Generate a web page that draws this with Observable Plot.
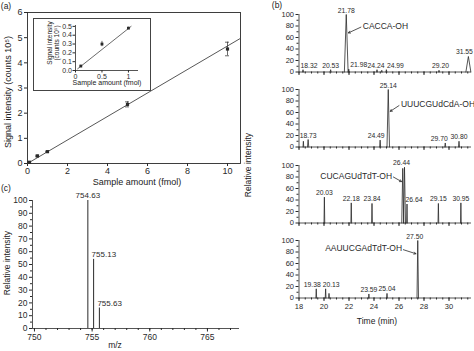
<!DOCTYPE html>
<html><head><meta charset="utf-8">
<script src="https://cdn.jsdelivr.net/npm/d3@7"></script>
<script src="https://cdn.jsdelivr.net/npm/@observablehq/plot@0.6"></script>
<style>
body{margin:0;background:#fff;}
#root{position:relative;width:474px;height:351px;overflow:hidden;font-family:"Liberation Sans",Arial,sans-serif;color:#222;background:#fff;}
#root svg{overflow:visible;}
.t{position:absolute;white-space:nowrap;line-height:1;}
</style></head><body><div id="root"></div>
<script>
// ---------- DATA ----------
// (a) calibration
const aAmounts = [0.1, 0.5, 1, 5, 10];
const aSignals = [0.05, 0.3, 0.47, 2.35, 4.55];
const aErrors = [0.02, 0.03, 0.02, 0.1, 0.27];
const aFitSlope = 0.467;
const aXTicks = [0, 2, 4, 6, 8, 10];
const aYTicks = [0, 1, 2, 3, 4, 5, 6];
// (a) inset
const insetAmounts = [0.1, 0.5, 1];
const insetSignals = [0.05, 0.3, 0.48];
const insetErrors = [0.01, 0.03, 0.01];
const insetFitSlope = 0.476;
const insetXTicks = [0, 0.5, 1];
const insetYTicks = [0, 0.1, 0.2, 0.3, 0.4, 0.5];
// (c) mass spectrum
const cMz = [754.63, 755.13, 755.63];
const cIntensity = [100, 54, 16];
const cXTicks = [750, 755, 760, 765];
const cYTicks = [0, 10, 20, 30, 40, 50, 60, 70, 80, 90, 100];
// (b) chromatograms
const bNames = ["CACCA-OH", "UUUCGUdCdA-OH", "CUCAGUdTdT-OH", "AAUUCGAdTdT-OH"];
const b1Times = [18.32, 20.53, 21.78, 21.98, 24.24, 24.62, 24.99, 29.20, 31.55];
const b1Heights = [4, 4, 100, 5, 4, 3, 4, 3, 27];
const b1Widths = [0.04, 0.04, 0.15, 0.04, 0.04, 0.04, 0.04, 0.04, 0.2];
const b1Labels = [18.32, 20.53, 21.78, 21.98, 24.24, 24.99, 29.20, 31.55];
const b2Times = [18.35, 18.73, 24.49, 25.14, 29.70, 30.80];
const b2Heights = [10, 13, 12, 100, 7, 10];
const b2Widths = [0.03, 0.05, 0.04, 0.1, 0.04, 0.04];
const b2Labels = [18.73, 24.49, 25.14, 29.70, 30.80];
const b3Times = [20.03, 22.18, 23.84, 26.30, 26.44, 26.64, 29.15, 30.95];
const b3Heights = [45, 35, 34, 95, 97, 33, 34, 35];
const b3Widths = [0.03, 0.03, 0.03, 0.08, 0.08, 0.03, 0.03, 0.03];
const b3Labels = [20.03, 22.18, 23.84, 26.44, 26.64, 29.15, 30.95];
const b4Times = [19.38, 20.13, 20.40, 23.59, 25.04, 27.50];
const b4Heights = [16, 16, 8, 7, 8, 100];
const b4Widths = [0.03, 0.03, 0.03, 0.03, 0.03, 0.06];
const b4Labels = [19.38, 20.13, 23.59, 25.04, 27.50];
const bXTicks = [18, 20, 22, 24, 26, 28, 30];
const bYTicks = [0, 20, 40, 60, 80, 100];

// ---------- LAYOUT ----------
const FONT = '"Liberation Sans",Arial,sans-serif';
const INK = "#2a2a2a";
const root = document.getElementById("root");
function put(el, left, top) { el.style.position = "absolute"; el.style.left = left + "px"; el.style.top = top + "px"; root.appendChild(el); return el; }
function txt(s, x, y, size, rot) {
  const d = document.createElement("div"); d.className = "t"; d.textContent = s;
  d.style.fontSize = size + "px"; d.style.left = x + "px"; d.style.top = y + "px";
  d.style.transform = "translate(-50%,-50%)" + (rot ? " rotate(-90deg)" : "");
  root.appendChild(d); return d;
}
function sty(fs) { return {fontSize: fs + "px", fontFamily: FONT, background: "none", overflow: "visible", color: INK}; }

// ----- (a) -----
const aX = [0, 10.65];
const aData = aAmounts.map((x, i) => ({x, y: aSignals[i], e: aErrors[i]}));
put(Plot.plot({
  width: 245, height: 190, marginLeft: 27, marginRight: 5, marginTop: 12, marginBottom: 27,
  style: sty(9),
  x: {domain: aX}, y: {domain: [0, 6]},
  marks: [
    Plot.frame({stroke: INK, strokeWidth: 0.9}),
    Plot.axisX(aXTicks, {tickSize: 3, tickPadding: 1, label: null}),
    Plot.axisY(aYTicks, {tickSize: 3, tickPadding: 2, label: null}),
    Plot.line([[aX[0], aFitSlope * aX[0]], [aX[1], aFitSlope * aX[1]]], {stroke: "#444", strokeWidth: 0.9}),
    Plot.ruleX(aData, {x: "x", y1: d => d.y - d.e, y2: d => d.y + d.e, stroke: INK, strokeWidth: 0.7}),
    Plot.ruleY(aData, {y: d => d.y - d.e, x1: d => d.x - 0.1, x2: d => d.x + 0.1, stroke: INK, strokeWidth: 0.7}),
    Plot.ruleY(aData, {y: d => d.y + d.e, x1: d => d.x - 0.1, x2: d => d.x + 0.1, stroke: INK, strokeWidth: 0.7}),
    Plot.dot(aData, {x: "x", y: "y", symbol: "square", r: 1.8, fill: INK})
  ]
}), 0, 0);
txt("Sample amount (fmol)", 137, 182, 9);
txt("Signal intensity (counts 10\u2075)", 8, 92, 9, true);
txt("(a)", 6, 6, 8.5);

// inset
const inBox = document.createElement("div");
inBox.style.width = "116px"; inBox.style.height = "71px"; inBox.style.border = "1px solid #444"; inBox.style.background = "#fff";
put(inBox, 33, 18);
const inX = [0, 1.19];
const inData = insetAmounts.map((x, i) => ({x, y: insetSignals[i], e: insetErrors[i]}));
put(Plot.plot({
  width: 117, height: 72, marginLeft: 42, marginRight: 12, marginTop: 7, marginBottom: 20,
  style: sty(7),
  x: {domain: inX}, y: {domain: [0, 0.51]},
  marks: [
    Plot.ruleX([0], {stroke: INK, strokeWidth: 0.8}),
    Plot.ruleY([0], {stroke: INK, strokeWidth: 0.8}),
    Plot.axisX(insetXTicks, {tickSize: 2.5, tickPadding: 1, label: null, tickFormat: d => d === 0.5 ? "0.5" : String(d)}),
    Plot.axisY(insetYTicks, {tickSize: 2.5, tickPadding: 1, label: null, tickFormat: d => d.toFixed(1)}),
    Plot.line([[0.04, insetFitSlope * 0.04], [1.05, insetFitSlope * 1.05]], {stroke: "#444", strokeWidth: 0.8}),
    Plot.ruleX(inData, {x: "x", y1: d => d.y - d.e, y2: d => d.y + d.e, stroke: INK, strokeWidth: 0.7}),
    Plot.dot(inData, {x: "x", y: "y", symbol: "square", r: 1.6, fill: INK})
  ]
}), 33, 18);
txt("Signal intensity", 50, 43, 6.5, true);
txt("(counts 10\u2075)", 57, 43, 6.5, true);
txt("Sample amount (fmol)", 107, 82, 7);

// ----- (c) -----
const cX = [749.83, 767.78];
const cData = cMz.map((m, i) => ({m, h: cIntensity[i]}));
put(Plot.plot({
  width: 245, height: 161, marginLeft: 32, marginRight: 6, marginTop: 10, marginBottom: 23,
  style: sty(8.5),
  x: {domain: cX}, y: {domain: [0, 100]},
  marks: [
    Plot.ruleX([cX[0]], {y1: 0, y2: 100, stroke: INK, strokeWidth: 0.8}),
    Plot.ruleY([0], {stroke: INK, strokeWidth: 0.8}),
    Plot.axisX(d3.range(750, 768, 1), {tickSize: 2, tickFormat: () => "", label: null}),
    Plot.axisX(cXTicks, {tickSize: 3.5, tickPadding: 2, label: null}),
    Plot.axisY(d3.range(5, 100, 10), {tickSize: 2, tickFormat: () => "", label: null}),
    Plot.axisY(cYTicks, {tickSize: 3, tickPadding: 2, label: null}),
    Plot.ruleX(cData, {x: "m", y1: 0, y2: "h", stroke: INK, strokeWidth: 1}),
    Plot.text([cData[0]], {x: "m", y: "h", text: d => d.m.toFixed(2), dy: -5, fontSize: 8}),
    Plot.text(cData.slice(1), {x: "m", y: "h", text: d => d.m.toFixed(2), dy: -5, dx: -2, textAnchor: "start", fontSize: 8})
  ]
}), 0, 190);
txt("m/z", 115, 345, 8.5);
txt("Relative intensity", 7, 263, 8.5, true);
txt("(c)", 6, 188, 8.5);

// ----- (b) -----
const traces = [
  {times: b1Times, heights: b1Heights, widths: b1Widths, labels: b1Labels},
  {times: b2Times, heights: b2Heights, widths: b2Widths, labels: b2Labels},
  {times: b3Times, heights: b3Heights, widths: b3Widths, labels: b3Labels},
  {times: b4Times, heights: b4Heights, widths: b4Widths, labels: b4Labels}
];
const labelNudge = [
  {"18.32": 6, "21.98": 10, "24.24": -1, "24.99": 9, "29.20": 1.5, "31.55": -4},
  {"24.49": -4, "29.70": -6},
  {"26.44": -3, "26.64": 7},
  {"19.38": -4, "20.13": 5.5, "27.50": -3}
];
const annot = [
  {tx: 23.1, ty: 80, anchor: "start", x1: 22.95, y1: 78, x2: 21.95, y2: 68},
  {tx: 26.15, ty: 74, anchor: "start", x1: 26.0, y1: 72, x2: 25.3, y2: 62},
  {tx: 25.45, ty: 82, anchor: "end", x1: 25.55, y1: 80, x2: 26.2, y2: 72},
  {tx: 26.25, ty: 86, anchor: "end", x1: 26.35, y1: 84, x2: 27.35, y2: 77}
];
const bTop100 = [14, 89, 164.5, 240];
const bX = [18, 31.8];
traces.forEach((tr, i) => {
  const last = i === traces.length - 1;
  const peaks = tr.times.map((t, k) => ({t, h: tr.heights[k], w: tr.widths[k], k}));
  const pts = peaks.flatMap(p => [{x: p.t - p.w, y: 0, k: p.k}, {x: p.t, y: p.h, k: p.k}, {x: p.t + p.w, y: 0, k: p.k}]);
  const labs = tr.labels.map(l => ({l, h: peaks.find(p => Math.abs(p.t - l) < 1e-6).h}));
  const top = bTop100[i] - 12;
  const height = last ? 351 - top : 75.5;
  const mb = height - 12 - 57.5;
  const a = annot[i];
  put(Plot.plot({
    width: 224, height, marginLeft: 48.5, marginRight: 3, marginTop: 12, marginBottom: mb,
    style: sty(7.5),
    x: {domain: bX}, y: {domain: [0, 100]},
    marks: [
      Plot.ruleX([bX[0]], {y1: 0, y2: 100, stroke: INK, strokeWidth: 0.8}),
      Plot.ruleY([0], {stroke: INK, strokeWidth: 0.8}),
      Plot.axisY(d3.range(10, 100, 20), {tickSize: 2, tickFormat: () => "", label: null}),
      Plot.axisY(bYTicks, {tickSize: 3, tickPadding: 2, label: null}),
      Plot.axisX(d3.range(18, 31.8, 0.5), {tickSize: 2, tickFormat: () => "", label: null}),
      Plot.axisX(bXTicks, {tickSize: 3.5, tickPadding: 2, label: null, tickFormat: last ? (d => String(d)) : (() => "")}),
      Plot.line(pts, {x: "x", y: "y", z: "k", stroke: INK, strokeWidth: 0.8}),
      ...labs.map(d => Plot.text([d], {x: "l", y: "h", text: v => v.l.toFixed(2), dy: -2, dx: labelNudge[i][d.l.toFixed(2)] || 0, lineAnchor: "bottom", fontSize: 6.8})),
      Plot.text([bNames[i]], {x: a.tx, y: a.ty, text: d => d, textAnchor: a.anchor, fontSize: 8.5}),
      Plot.arrow([a], {x1: "x1", y1: "y1", x2: "x2", y2: "y2", stroke: INK, strokeWidth: 0.8, headLength: 4})
    ]
  }), 250, top);
});
txt("Time (min)", 377, 321, 8.5);
txt("Relative intensity", 248, 165, 8.5, true);
txt("(b)", 277, 5, 8.5);
</script></body></html>
